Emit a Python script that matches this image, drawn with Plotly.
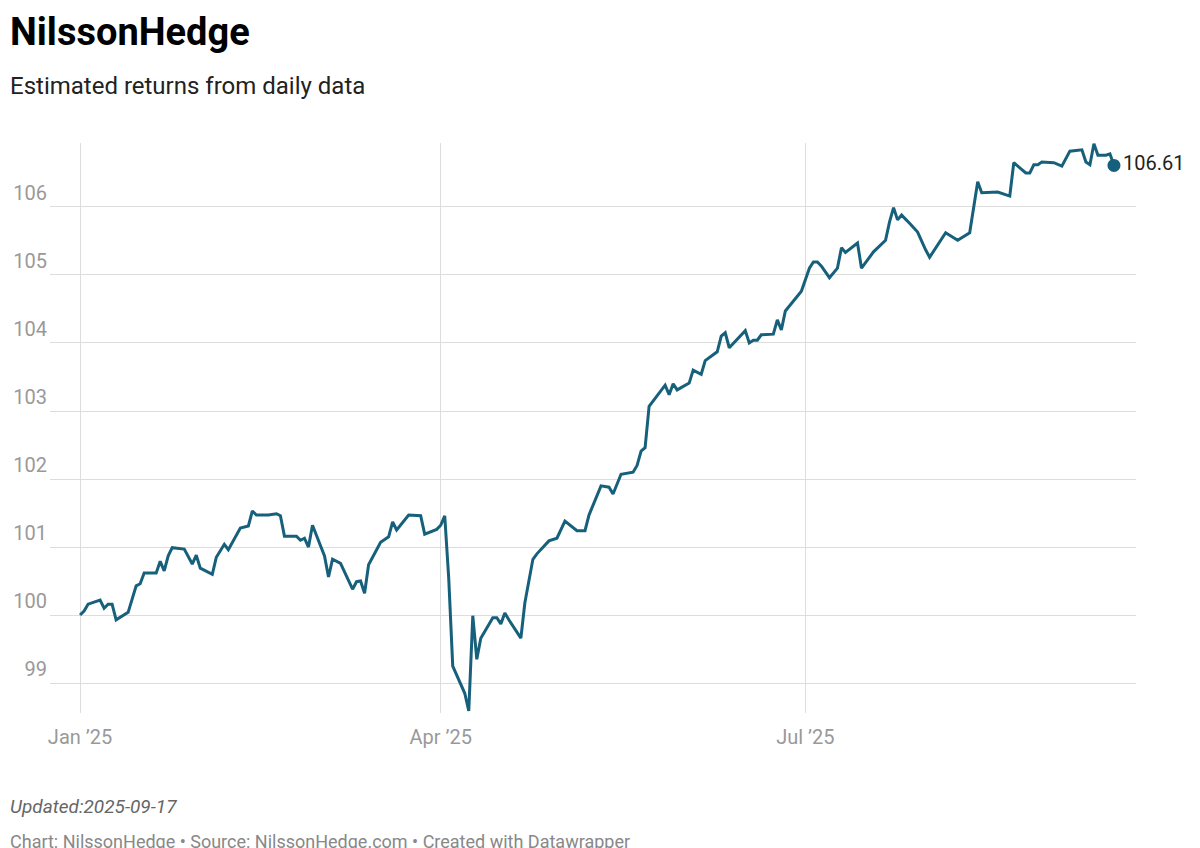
import plotly.graph_objects as go
import pandas as pd

# days since 2025-01-01
day_offsets = [0,1,2,5,6,7,8,9,12,13,14,15,16,19,20,21,22,23,26,28,29,30,33,34,36,37,40,42,43,44,47,49,50,51,54,55,56,57,58,61,62,63,65,68,69,70,71,72,75,77,78,79,82,85,86,89,90,91,92,93,96,97,98,99,100,103,104,105,106,107,110,111,113,114,117,119,121,124,126,127,130,132,133,135,138,139,140,141,142,146,147,148,149,152,153,155,156,159,160,161,162,166,167,168,169,170,173,174,175,176,178,180,182,183,184,185,187,189,190,191,194,195,198,201,202,203,204,205,207,209,211,212,216,219,222,224,225,229,232,233,236,237,238,239,240,243,245,247,250,251,252,253,254,256,257,258]
values = [100.0,100.06,100.16,100.22,100.1,100.16,100.16,99.93,100.04,100.22,100.43,100.46,100.62,100.62,100.79,100.65,100.87,100.99,100.97,100.75,100.88,100.69,100.6,100.85,101.04,100.96,101.28,101.31,101.53,101.47,101.47,101.49,101.46,101.16,101.16,101.1,101.13,101.0,101.32,100.87,100.56,100.82,100.76,100.38,100.49,100.5,100.32,100.74,101.07,101.15,101.37,101.25,101.47,101.46,101.19,101.26,101.32,101.46,100.54,99.25,98.85,98.59,99.99,99.35,99.66,99.96,99.96,99.87,100.03,99.93,99.66,100.18,100.82,100.9,101.09,101.13,101.38,101.24,101.24,101.47,101.9,101.88,101.78,102.07,102.1,102.2,102.41,102.46,103.07,103.38,103.24,103.4,103.31,103.41,103.6,103.54,103.74,103.87,104.1,104.15,103.93,104.18,104.0,104.04,104.04,104.12,104.13,104.34,104.19,104.47,104.62,104.76,105.1,105.19,105.19,105.13,104.96,105.1,105.4,105.33,105.47,105.1,105.34,105.51,105.78,105.99,105.81,105.88,105.76,105.63,105.37,105.26,105.62,105.51,105.62,106.37,106.21,106.22,106.16,106.65,106.5,106.5,106.62,106.62,106.66,106.65,106.6,106.82,106.84,106.66,106.62,106.93,106.76,106.76,106.78,106.61]

tick_dates = ["2025-01-01", "2025-04-01", "2025-07-01"]
tick_labels = ["Jan ’25", "Apr ’25", "Jul ’25"]
y_ticks = [99, 100, 101, 102, 103, 104, 105, 106]

start = pd.Timestamp("2025-01-01")
dates = [start + pd.Timedelta(days=d) for d in day_offsets]
color = "#17607c"
gray = "#999999"
font = "Roboto"

fig = go.Figure()
fig.add_trace(go.Scatter(x=dates, y=values, mode="lines",
                         line=dict(color=color, width=3), hoverinfo="skip"))
fig.add_trace(go.Scatter(x=[dates[-1]], y=[values[-1]], mode="markers+text",
                         marker=dict(color=color, size=13), cliponaxis=False,
                         text=[f"{values[-1]:.2f}"], textposition="middle right",
                         textfont=dict(family=font, size=20, color="#222222"),
                         hoverinfo="skip"))

fig.update_layout(
    width=1200, height=848, showlegend=False,
    paper_bgcolor="white", plot_bgcolor="white",
    margin=dict(l=42, r=72, t=135, b=143),
    font=dict(family=font),
    xaxis=dict(range=[start - pd.Timedelta(days=7.5), start + pd.Timedelta(days=263.5)],
               tickvals=tick_dates, ticktext=tick_labels, showgrid=True, automargin=False,
               gridcolor="#dddddd", gridwidth=1, zeroline=False, showline=False,
               tickfont=dict(size=20, color=gray), ticks="", ticklabelstandoff=10),
    yaxis=dict(range=[98.56, 106.94], tickvals=y_ticks, showgrid=True, automargin=False,
               gridcolor="#dddddd", gridwidth=1, zeroline=False, showline=False,
               tickfont=dict(size=20, color=gray), ticks="", ticklabelstandoff=2,
               ticklabelposition="outside top"),
)
fig.add_annotation(text="<b>NilssonHedge</b>", xref="paper", yref="paper", x=-0.0387, y=1,
                   xanchor="left", yanchor="top", yshift=135, showarrow=False,
                   font=dict(family=font, size=38, color="#000000"))
fig.add_annotation(text="Estimated returns from daily data", xref="paper", yref="paper",
                   x=-0.0387, y=1, xanchor="left", yanchor="top", yshift=73, showarrow=False,
                   font=dict(family=font, size=24, color="#222222"))
fig.add_annotation(text="<i>Updated:2025-09-17</i>", xref="paper", yref="paper",
                   x=-0.0387, y=0, xanchor="left", yanchor="top", yshift=-80, showarrow=False,
                   font=dict(family=font, size=19, color="#666666"))
fig.add_annotation(text="Chart: NilssonHedge • Source: NilssonHedge.com • Created with Datawrapper",
                   xref="paper", yref="paper", x=-0.0387, y=0, xanchor="left", yanchor="top",
                   yshift=-116, showarrow=False, font=dict(family=font, size=18, color="#888888"))
fig.write_html("out.html")
